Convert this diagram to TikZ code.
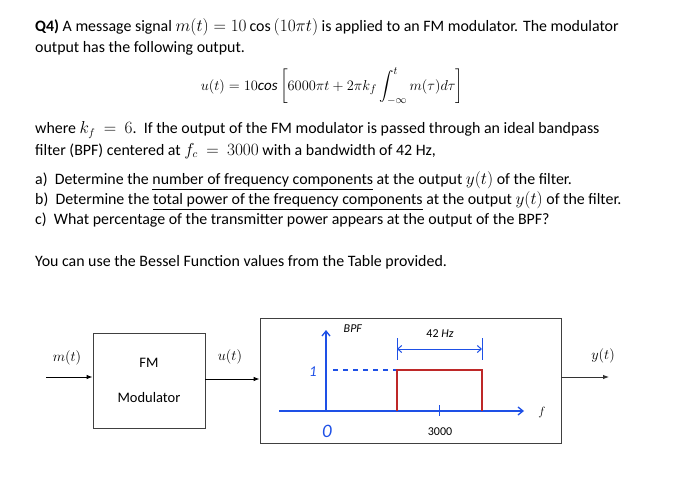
\documentclass[tikz,border=0pt]{standalone}
\usepackage{fontspec}
\setmainfont{Carlito}
\usepackage{amsmath}
\usetikzlibrary{arrows.meta}
\begin{document}
\begin{tikzpicture}[x=1pt,y=-1pt,
  txt/.style={anchor=west,inner sep=0,font=\fontsize{15.9}{18}\selectfont},
  blk/.style={draw=black!75,line width=0.8pt,inner sep=0},
  sig/.style={-{Latex[length=6pt]},line width=0.9pt},
  blu/.style={draw={rgb,255:red,30;green,80;blue,230},line width=1.3pt},
  lbl/.style={inner sep=0,font=\fontsize{14.5}{16}\selectfont}]
\useasboundingbox (0,0) rectangle (682,479);
\node[txt] (l1) at (35,27) {\textbf{Q4)} A message signal $m(t)=10\cos\,(10\pi t)$ is applied to an FM modulator. The modulator};
\node[txt] (l2) at (35,48) {output has the following output.};
\node[inner sep=0,font=\fontsize{15}{16}\selectfont] (eq) at (332,86) {$u(t)=10\mathit{cos}\left[6000\pi t+2\pi k_f\displaystyle\int_{-\infty}^{t} m(\tau)d\tau\right]$};
\node[txt] (l3) at (35,130) {where $k_f\ =\ 6$.\ \ If the output of the FM modulator is passed through an ideal bandpass};
\node[txt] (l4) at (35,151) {filter (BPF) centered at $f_c\ =\ 3000$ with a bandwidth of 42 Hz,};
\node[txt] (l5) at (35,181) {a)\ \ Determine the \underline{number of frequency components} at the output $y(t)$ of the filter.};
\node[txt] (l6) at (35,201) {b)\ \ Determine the \underline{total power of the frequency components} at the output $y(t)$ of the filter.};
\node[txt] (l7) at (35,220) {c)\ \ What percentage of the transmitter power appears at the output of the BPF?};
\node[txt] (l8) at (35,262) {You can use the Bessel Function values from the Table provided.};
% blocks
\node[blk,minimum width=112pt,minimum height=95pt] (fm) at (149,380.5) {};
\node[lbl] (fmt) at (149,363) {FM};
\node[lbl] (fmb) at (149,398) {Modulator};
\node[blk,minimum width=301pt,minimum height=125pt] (bpf) at (410.5,380.5) {};
\coordinate (in) at (46,377);
\coordinate (out) at (609,377);
\draw[sig] (in) -- (in -| fm.west);
\draw[sig] (fm.east |- 0,379) coordinate (u0) -- (bpf.west |- u0);
\draw[sig,black!80] (bpf.east |- out) -- (out);
\node[lbl] (mt) at (67,358) {$m(t)$};
\node[lbl] (ut) at (230,357) {$u(t)$};
\node[lbl] (yt) at (603,356) {$y(t)$};
% inner plot
\coordinate (o) at (326,411);
\coordinate (ytop) at (326,330);
\coordinate (xl) at (279,411);
\coordinate (xr) at (524,411);
\draw[blu,-{Straight Barb[length=5pt,width=8pt]}] (o) -- (ytop);
\draw[blu,-{Straight Barb[length=5pt,width=8pt]}] (xl) -- (xr);
\draw[blu,dashed,dash pattern=on 5pt off 5pt] (333,370) -- (397,370);
\draw[draw={rgb,255:red,190;green,40;blue,40},line width=1.3pt] (397,411) -- (397,370) -- (482,370) -- (482,411);
\draw[blu,line width=1pt] (439,405) -- (439,416);
\draw[blu,line width=1pt] (397,338) -- (397,360) (482,338) -- (482,360);
\draw[blu,line width=1pt,{Straight Barb[length=4pt,width=7pt]}-{Straight Barb[length=4pt,width=7pt]}] (397,349) -- (482,349);
\node[lbl,font=\fontsize{12}{14}\selectfont] (bw) at (440,334) {42 \textit{Hz}};
\node[lbl,font=\fontsize{12}{14}\selectfont] (bl) at (353,329) {\textit{BPF}};
\node[lbl,text={rgb,255:red,30;green,80;blue,230},font=\fontsize{15}{16}\selectfont\itshape] (one) at (313,372) {1};
\node[lbl,text={rgb,255:red,30;green,80;blue,230},font=\fontsize{19}{20}\selectfont\itshape] (zero) at (327,431) {0};
\node[lbl,font=\fontsize{12}{14}\selectfont] (f3) at (440,432) {3000};
\node[lbl,font=\fontsize{13}{14}\selectfont] (fl) at (542,412) {$f$};
\end{tikzpicture}
\end{document}
